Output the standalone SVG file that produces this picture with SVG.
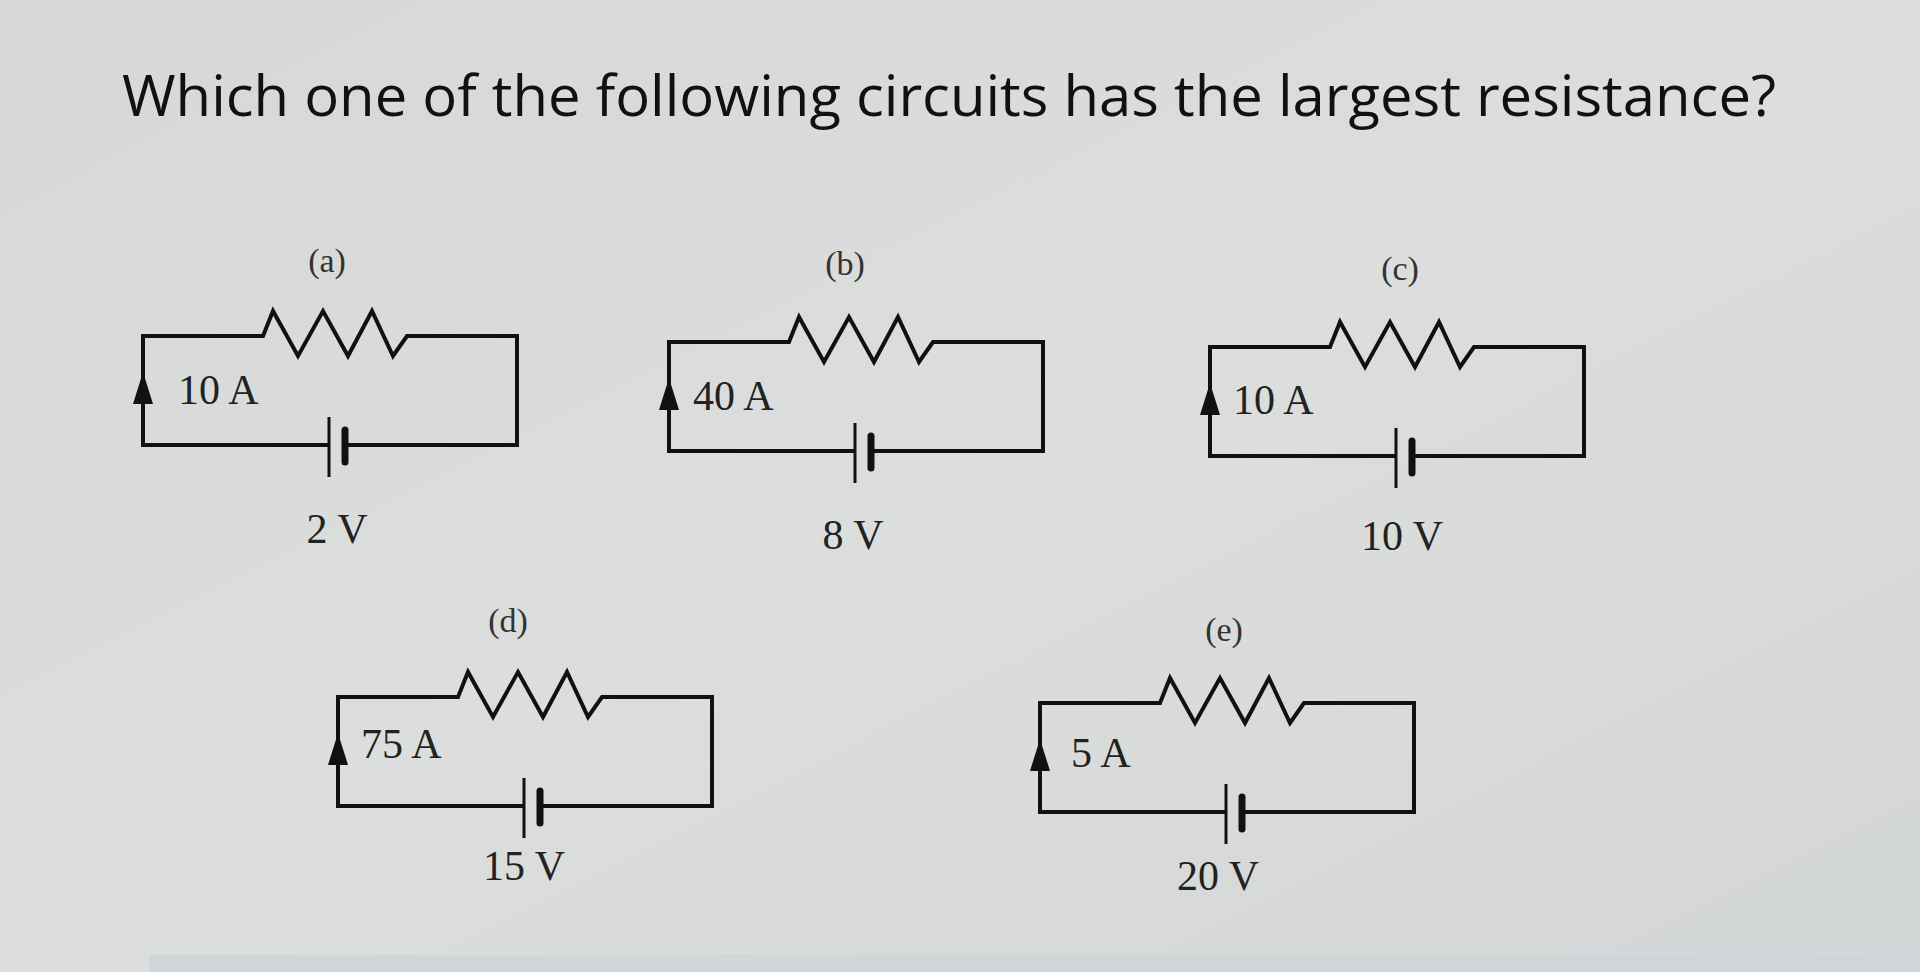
<svg xmlns="http://www.w3.org/2000/svg" width="1920" height="972" viewBox="0 0 1920 972">
<defs>
<linearGradient id="bg" x1="0" y1="0" x2="1" y2="1"><stop offset="0" stop-color="#d6d8d7"/><stop offset="0.5" stop-color="#dcdedd"/><stop offset="1" stop-color="#d3d6d6"/></linearGradient>
<g id="circ">
<path d="M202,109 H374 V0 H264 L250,20 L229,-25 L205,20 L180,-25 L155,20 L130,-25 L120,0 H0 V109 H186" fill="none" stroke="#111" stroke-width="4" stroke-linejoin="miter"/>
<line x1="186" y1="81" x2="186" y2="141" stroke="#111" stroke-width="3"/>
<line x1="202" y1="94" x2="202" y2="126" stroke="#111" stroke-width="7" stroke-linecap="round"/>
<polygon points="0,36 -10,68 10,68" fill="#111"/>
</g>
<style>
.t{font-family:"Liberation Serif",serif;font-size:42px;fill:#222}
.l{font-family:"Liberation Serif",serif;font-size:34px;fill:#333;text-anchor:middle}
.v{font-family:"Liberation Serif",serif;font-size:42px;fill:#222;text-anchor:middle}
</style>
</defs>
<rect width="1920" height="972" fill="url(#bg)"/>
<rect x="150" y="955" width="1770" height="17" fill="#cfd6da"/>
<text x="122" y="116" font-family="Open Sans, sans-serif" font-size="56" fill="#111" textLength="1654" lengthAdjust="spacingAndGlyphs">Which one of the following circuits has the largest resistance?</text>
<g id="circuit-a">
<use href="#circ" transform="translate(143,336)"/>
<text class="l" x="327" y="272">(a)</text>
<text class="t" x="178" y="404">10 A</text>
<text class="v" x="337" y="543">2 V</text>
</g>
<g id="circuit-b">
<use href="#circ" transform="translate(669,342)"/>
<text class="l" x="845" y="275">(b)</text>
<text class="t" x="693" y="410">40 A</text>
<text class="v" x="853" y="549">8 V</text>
</g>
<g id="circuit-c">
<use href="#circ" transform="translate(1210,347)"/>
<text class="l" x="1400" y="280">(c)</text>
<text class="t" x="1233" y="414">10 A</text>
<text class="v" x="1402" y="550">10 V</text>
</g>
<g id="circuit-d">
<use href="#circ" transform="translate(338,697)"/>
<text class="l" x="508" y="632">(d)</text>
<text class="t" x="361" y="758">75 A</text>
<text class="v" x="524" y="880">15 V</text>
</g>
<g id="circuit-e">
<use href="#circ" transform="translate(1040,703)"/>
<text class="l" x="1224" y="641">(e)</text>
<text class="t" x="1071" y="767">5 A</text>
<text class="v" x="1218" y="890">20 V</text>
</g>
<g id="connectors"></g>
</svg>
